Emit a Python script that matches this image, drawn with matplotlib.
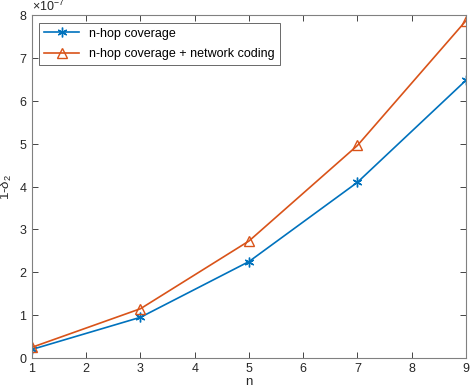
import matplotlib
matplotlib.use("Agg")
import matplotlib.pyplot as plt
from matplotlib.ticker import ScalarFormatter

plt.rcParams['font.family'] = ['Liberation Sans', 'DejaVu Sans']
plt.rcParams['mathtext.fontset'] = 'custom'
plt.rcParams['mathtext.rm'] = 'Liberation Sans'
plt.rcParams['mathtext.it'] = 'Liberation Sans:italic'

n = [1, 3, 5, 7, 9]
coverage = [0.20, 0.95, 2.25, 4.10, 6.48]
coverage_nc = [0.25, 1.15, 2.73, 4.96, 7.87]
labels = ['n-hop coverage', 'n-hop coverage + network coding']

scale = 1e-7
blue = '#0072BD'
orange = '#D95319'
axcol = '#262626'

fig = plt.figure(figsize=(4.74, 3.89), dpi=100)
ax = fig.add_axes([0.0675, 0.0797, 0.9155, 0.8813])
ax.plot(n, [v * scale for v in coverage], color=blue, marker=(6, 2, 0), markersize=7,
        markeredgewidth=1.0, lw=1.2, label=labels[0])
ax.plot(n, [v * scale for v in coverage_nc], color=orange, marker='^', markersize=7,
        markerfacecolor='none', markeredgewidth=1.0, lw=1.2, label=labels[1])

ax.set_xlim(1, 9)
ax.set_ylim(0, 8e-7)
ax.set_xticks(range(1, 10))
ax.set_yticks([i * 1e-7 for i in range(0, 9)])
fmt = ScalarFormatter(useMathText=True)
fmt.set_powerlimits((0, 0))
ax.yaxis.set_major_formatter(fmt)
ax.yaxis.get_offset_text().set_fontsize(9)
ax.yaxis.get_offset_text().set_color(axcol)

ax.tick_params(direction='in', top=True, right=True, labelsize=9, colors=axcol, length=4, width=0.6)
for s in ax.spines.values():
    s.set_color('#808080')
    s.set_linewidth(0.8)
ax.set_xlabel('n', fontsize=9.5, color=axcol, labelpad=1)
ax.set_ylabel(r'1-$\delta_2$', fontsize=9.5, color=axcol, labelpad=3)

leg = ax.legend(loc='upper left', fontsize=9, frameon=True, fancybox=False,
                edgecolor=axcol, borderaxespad=0.6, handlelength=2.8, labelspacing=0.7)
leg.get_frame().set_linewidth(0.6)

fig.savefig('out.png', dpi=100)
